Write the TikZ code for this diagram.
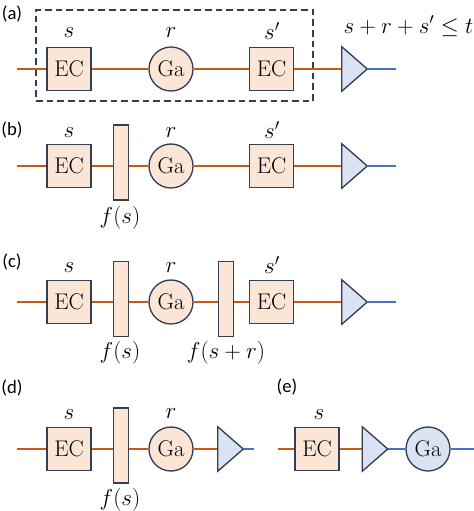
\documentclass[tikz,border=0pt]{standalone}
\usepackage{fontspec}
\newfontfamily\lblfont{Carlito}
\definecolor{wire}{RGB}{197,90,17}
\definecolor{peach}{RGB}{251,229,214}
\definecolor{outl}{RGB}{52,62,82}
\definecolor{ampfill}{RGB}{218,227,243}
\definecolor{bluewire}{RGB}{68,114,196}
\tikzset{
  ecbox/.style={rectangle, draw=outl, fill=peach, line width=1pt, minimum width=33pt, minimum height=32.5pt, inner sep=0pt, font=\fontsize{17}{20}\selectfont},
  gacirc/.style={circle, draw=outl, fill=peach, line width=1pt, minimum size=33pt, inner sep=0pt, font=\fontsize{17}{20}\selectfont},
  gablue/.style={gacirc, fill=ampfill},
  barbox/.style={rectangle, draw=outl, fill=peach, line width=1pt, minimum width=11.25pt, minimum height=56.25pt, inner sep=0pt},
  ampbox/.style={rectangle, minimum width=18.75pt, minimum height=33pt, inner sep=0pt},
  ampdraw/.style={draw=outl, fill=ampfill, line width=1pt, line join=miter},
  owire/.style={draw=wire, line width=1pt},
  bwire/.style={draw=bluewire, line width=1pt},
  mlbl/.style={inner sep=0pt, font=\fontsize{16.5}{19}\selectfont},
  plbl/.style={inner sep=0pt, font=\lblfont\fontsize{14}{16}\selectfont},
  dbox/.style={draw=outl, line width=1pt, dash pattern=on 5pt off 3pt},
}
\begin{document}
\begin{tikzpicture}[x=0.75pt, y=-0.75pt]
\useasboundingbox (0,0) rectangle (474,511);
% ---------- (a)
\node[plbl] (la) at (12,14) {(a)};
\node[dbox, minimum width=207.75pt, minimum height=68.25pt, inner sep=0pt] (dash) at (174.5,55.5) {};
\coordinate (a0) at (17,69);
\node[ecbox] (aec1) at (69,69) {EC};
\node[gacirc] (aga) at (171,69) {Ga};
\node[ecbox] (aec2) at (271.5,69) {EC};
\node[ampbox] (aamp) at (354.5,69) {};
\coordinate (a9) at (396,69);
\draw[owire] (a0) -- (aec1) (aec1) -- (aga) (aga) -- (aec2) (aec2) -- (aamp.west);
\draw[ampdraw] (aamp.north west) -- (aamp.east) -- (aamp.south west) -- cycle;
\draw[bwire] (aamp.east) -- (a9);
\node[mlbl] (as) at (69,33) {$s$};
\node[mlbl] (ar) at (171,33) {$r$};
\node[mlbl] (as2) at (272,31) {$s'$};
\node[mlbl] (ineq) at (408.5,26) {$s+r+s'\leq t$};
% ---------- (b)
\node[plbl] (lb) at (12,130) {(b)};
\coordinate (b0) at (17,166);
\node[ecbox] (bec1) at (69,166) {EC};
\node[barbox] (bbar) at (121,162.5) {};
\node[gacirc] (bga) at (171,166) {Ga};
\node[ecbox] (bec2) at (271.5,166) {EC};
\node[ampbox] (bamp) at (354.5,166) {};
\coordinate (b9) at (396,166);
\draw[owire] (b0) -- (bec1) (bec1) -- (bbar.west|-bec1) (bbar.east|-bec1) -- (bga) (bga) -- (bec2) (bec2) -- (bamp.west);
\draw[ampdraw] (bamp.north west) -- (bamp.east) -- (bamp.south west) -- cycle;
\draw[bwire] (bamp.east) -- (b9);
\node[mlbl] (bs) at (69,133) {$s$};
\node[mlbl] (br) at (171,133) {$r$};
\node[mlbl] (bs2) at (272,130) {$s'$};
\node[mlbl] (bf) at (120,218) {$f(s)$};
% ---------- (c)
\node[plbl] (lc) at (12,262) {(c)};
\coordinate (c0) at (17,302);
\node[ecbox] (cec1) at (69,302) {EC};
\node[barbox] (cbar1) at (121,299) {};
\node[gacirc] (cga) at (171,302) {Ga};
\node[barbox] (cbar2) at (226,299) {};
\node[ecbox] (cec2) at (271.5,302) {EC};
\node[ampbox] (camp) at (354.5,302) {};
\coordinate (c9) at (396,302);
\draw[owire] (c0) -- (cec1) (cec1) -- (cbar1.west|-cec1) (cbar1.east|-cec1) -- (cga) (cga) -- (cbar2.west|-cga) (cbar2.east|-cga) -- (cec2) (cec2) -- (camp.west);
\draw[ampdraw] (camp.north west) -- (camp.east) -- (camp.south west) -- cycle;
\draw[bwire] (camp.east) -- (c9);
\node[mlbl] (cs) at (69,268) {$s$};
\node[mlbl] (cr) at (171,268) {$r$};
\node[mlbl] (cs2) at (272,265) {$s'$};
\node[mlbl] (cf1) at (120,353) {$f(s)$};
\node[mlbl] (cf2) at (226,353) {$f(s+r)$};
% ---------- (d)
\node[plbl] (ld) at (12,388) {(d)};
\coordinate (d0) at (17,449);
\node[ecbox] (dec1) at (69,449) {EC};
\node[barbox] (dbar) at (121,445.5) {};
\node[gacirc] (dga) at (171,449) {Ga};
\node[ampbox] (damp) at (230.5,449) {};
\coordinate (d9) at (254,449);
\draw[owire] (d0) -- (dec1) (dec1) -- (dbar.west|-dec1) (dbar.east|-dec1) -- (dga) (dga) -- (damp.west);
\draw[ampdraw] (damp.north west) -- (damp.east) -- (damp.south west) -- cycle;
\draw[bwire] (damp.east) -- (d9);
\node[mlbl] (ds) at (69,415) {$s$};
\node[mlbl] (dr) at (171,414) {$r$};
\node[mlbl] (df) at (120,500) {$f(s)$};
% ---------- (e)
\node[plbl] (le) at (287,387) {(e)};
\coordinate (e0) at (278,449);
\node[ecbox] (eec) at (317,449) {EC};
\node[ampbox] (eamp) at (375,449) {};
\node[gablue] (ega) at (428,449) {Ga};
\coordinate (e9) at (474,449);
\draw[owire] (e0) -- (eec) (eec) -- (eamp.west);
\draw[ampdraw] (eamp.north west) -- (eamp.east) -- (eamp.south west) -- cycle;
\draw[bwire] (eamp.east) -- (ega) (ega) -- (e9);
\node[mlbl] (es) at (319,415) {$s$};
\end{tikzpicture}
\end{document}
